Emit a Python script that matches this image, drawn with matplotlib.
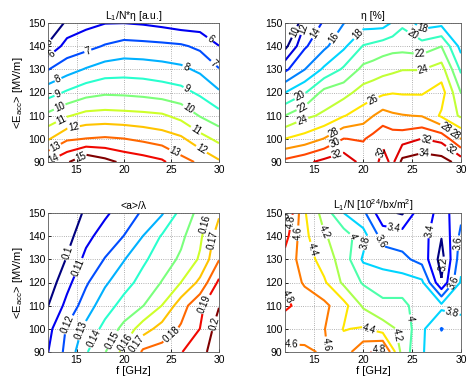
import matplotlib
matplotlib.use('Agg')
import matplotlib.pyplot as plt
from matplotlib.colors import Normalize
import numpy as np

plt.rcParams['font.family'] = ['Liberation Sans', 'DejaVu Sans']
plt.rcParams['mathtext.fontset'] = 'custom'
plt.rcParams['mathtext.rm'] = 'Liberation Sans'
plt.rcParams['mathtext.it'] = 'Liberation Sans:italic'

# ---------------- data ----------------
f_ghz = [12, 14, 16, 18, 20, 22, 24, 26, 28, 30]
f_eta = [12, 14, 16, 18, 20, 21, 22, 23, 24, 26, 28, 30]
e_acc = [90, 100, 110, 120, 130, 140, 150]

# L1/N*eta [a.u.]  (rows: E = 90 ... 150)
lum_eta = [
    [14.05, 14.88, 15.90, 15.35, 14.77, 14.50, 14.18, 13.33, 12.85, 12.14],
    [11.89, 12.85, 13.03, 13.13, 13.02, 12.79, 12.52, 12.18, 11.38, 10.74],
    [10.25, 10.91, 11.32, 11.38, 11.32, 11.25, 11.14, 10.69, 9.94, 9.35],
    [8.57, 9.14, 9.63, 9.85, 9.81, 9.71, 9.54, 9.33, 8.82, 8.13],
    [6.96, 7.59, 8.08, 8.47, 8.56, 8.52, 8.39, 8.21, 7.81, 7.05],
    [5.22, 6.37, 6.68, 7.08, 7.37, 7.31, 7.24, 7.14, 6.79, 6.02],
    [3.50, 5.30, 5.72, 5.97, 5.99, 5.90, 5.73, 5.50, 5.49, 5.05],
]
lum_eta_levels = [5, 6, 7, 8, 9, 10, 11, 12, 13, 14, 15]

# eta [%]
eta = [
    [30.6, 31.5, 32.6, 33.3, 31.3, 31.0, 32.8, 31.5, 34.6, 35.2, 34.9, 33.2],
    [26.02, 26.79, 28.09, 30.04, 29.83, 30.6, 31.5, 31.1, 31.13, 32.04, 31.4, 27.98],
    [22.02, 23.52, 24.36, 25.88, 27.01, 27.95, 28.83, 28.3, 28.1, 27.89, 25.7, 23.66],
    [17.98, 19.76, 22.65, 23.29, 24.82, 25.2, 25.62, 25.9, 25.8, 25.8, 26.9, 21.95],
    [13.56, 15.95, 18.36, 20.31, 22.53, 22.9, 23.33, 23.6, 23.93, 23.94, 24.84, 19.6],
    [9.4, 13.72, 15.55, 17.6, 20.12, 20.5, 20.98, 21.3, 21.3, 20.97, 21.97, 17.3],
    [5.4, 11.9, 14.3, 15.95, 17.2, 17.15, 17.14, 18.2, 19.63, 17.0, 17.4, 16.2],
]
eta_levels = [10, 12, 14, 16, 18, 20, 22, 24, 26, 28, 30, 32, 34]

# <a>/lambda
a_lambda = [
    [0.1098, 0.1229, 0.1390, 0.1495, 0.1633, 0.1820, 0.1840, 0.1895, 0.1960, 0.2070],
    [0.1067, 0.1211, 0.1326, 0.1431, 0.1529, 0.1653, 0.1741, 0.1813, 0.1901, 0.2050],
    [0.0998, 0.1129, 0.1250, 0.1356, 0.1436, 0.1497, 0.1602, 0.1756, 0.1876, 0.1995],
    [0.0942, 0.1071, 0.1186, 0.1285, 0.1363, 0.1434, 0.1505, 0.1601, 0.1725, 0.1920],
    [0.0870, 0.1010, 0.1127, 0.1205, 0.1295, 0.1383, 0.1450, 0.1517, 0.1613, 0.1795],
    [0.0860, 0.0961, 0.1072, 0.1143, 0.1202, 0.1301, 0.1410, 0.1477, 0.1581, 0.1750],
    [0.0880, 0.0945, 0.1014, 0.1083, 0.1148, 0.1213, 0.1289, 0.1433, 0.1532, 0.1685],
]
a_lambda_levels = [0.10, 0.11, 0.12, 0.13, 0.14, 0.15, 0.16, 0.17, 0.18, 0.19, 0.20]

# L1/N [10^24/bx/m^2]
lum_n = [
    [4.55, 4.57, 4.62, 4.50, 4.75, 4.88, 4.12, 3.81, 3.72, 3.72],
    [4.70, 4.67, 4.61, 4.39, 4.42, 4.30, 4.15, 3.84, 3.59, 3.74],
    [4.83, 4.74, 4.65, 4.47, 4.17, 4.04, 4.05, 3.90, 3.85, 3.84],
    [4.78, 4.57, 4.43, 4.16, 3.98, 3.92, 3.90, 3.84, 3.22, 3.83],
    [4.72, 4.51, 4.31, 4.11, 3.77, 3.71, 3.65, 3.53, 3.12, 3.72],
    [4.88, 4.45, 4.22, 4.10, 3.88, 3.52, 3.50, 3.50, 3.21, 3.65],
    [5.05, 4.42, 4.12, 3.80, 3.65, 3.25, 3.18, 3.55, 3.30, 3.55],
]
lum_n_levels = [3.2, 3.4, 3.6, 3.8, 4.0, 4.2, 4.4, 4.6, 4.8, 5.0]

titles = ['L$_1$/N*η [a.u.]', 'η [%]', '<a>/λ',
          'L$_1$/N [10$^{24}$/bx/m$^2$]']
ylabel = '<E$_{\\mathrm{acc}}$> [MV/m]'
xlabel = 'f [GHz]'
x_ticks = [15, 20, 25, 30]
y_ticks = [90, 100, 110, 120, 130, 140, 150]

# where the contour labels sit (layout only)
label_spots = [
    [(12.3, 141), (12.4, 136.5), (28.9, 142), (16.1, 139), (29.3, 132),
     (13.05, 125.7), (26.4, 130), (13.05, 119.2), (26.6, 121.5),
     (13.2, 114), (26.6, 112), (13.4, 108.3), (27.6, 104), (14.7, 104.8),
     (27.8, 93), (12.7, 97), (25.2, 93), (12.5, 92.5), (15.4, 92.5)],
    [(12.85, 146.4), (13.6, 147.8), (15.0, 146), (16.7, 144.5),
     (19.7, 144.2), (26.0, 146.6), (13.5, 118.9), (25.0, 144.5),
     (13.7, 114.2), (25.8, 136.3), (13.7, 108.8), (26.2, 129.5),
     (21.0, 116.8), (28.6, 105.8), (17.0, 103), (29.2, 101),
     (17.1, 98), (29.2, 96.5), (17.3, 93.4), (22.0, 94), (26.5, 100.5),
     (26.3, 94.4)],
    [(14.1, 132.7), (15.0, 126.9), (13.9, 102.3), (15.5, 99.4),
     (16.9, 95.8), (18.5, 95.8), (19.9, 95.1), (28.3, 145.7),
     (21.1, 94.4), (29.4, 138.4), (25.0, 97.3), (28.7, 110.3),
     (29.4, 102.3)],
    [(12.2, 148.6), (12.6, 146), (12.2, 113.9), (13.1, 141.3),
     (12.7, 92.9), (16.8, 93.6), (14.6, 134.1), (20.6, 99.5),
     (15.9, 141.3), (23.6, 97.3), (19.3, 139.9), (24.6, 104.5),
     (20.3, 137), (29.4, 119.5), (29.0, 105.2), (21.4, 137.2),
     (29.6, 137), (23.2, 145), (27.2, 142), (28.0, 128), (21.5, 92.5)],
]

# ---------------- figure ----------------
W, H = 474, 380
fig = plt.figure(figsize=(W / 100, H / 100), dpi=100)
fig.patch.set_facecolor('white')

boxes = [
    (48, 23, 219, 162),
    (285, 23, 461, 162),
    (48, 213, 219, 352),
    (285, 213, 461, 352),
]
axes = []
for (x0, y0, x1, y1) in boxes:
    ax = fig.add_axes([x0 / W, 1 - y1 / H, (x1 - x0) / W, (y1 - y0) / H])
    axes.append(ax)

panels = [
    (f_ghz, lum_eta, lum_eta_levels),
    (f_eta, eta, eta_levels),
    (f_ghz, a_lambda, a_lambda_levels),
    (f_ghz, lum_n, lum_n_levels),
]

for i, (ax, (fx, z, lev)) in enumerate(zip(axes, panels)):
    X, Y = np.meshgrid(fx, e_acc)
    Z = np.array(z)
    norm = Normalize(vmin=lev[0], vmax=lev[-1])
    cs = ax.contour(X, Y, Z, levels=lev, cmap='jet', norm=norm,
                    linewidths=1.5)
    ax.clabel(cs, fmt='%g', fontsize=7, colors='k', inline=True,
              inline_spacing=1, manual=label_spots[i])
    ax.set_xlim(12, 30)
    ax.set_ylim(90, 150)
    ax.set_xticks(x_ticks)
    ax.set_yticks(y_ticks)
    ax.grid(True, linestyle=':', color='0.6', linewidth=0.6)
    ax.set_axisbelow(True)
    ax.tick_params(direction='in', length=2.5, width=0.6, labelsize=7.5,
                   pad=2, colors='k')
    for s in ax.spines.values():
        s.set_linewidth(0.6)
        s.set_color('0.35')
    ax.set_title(titles[i], fontsize=7.5, pad=3)
    if i in (0, 2):
        ax.set_ylabel(ylabel, fontsize=8, labelpad=2)
    if i in (2, 3):
        ax.set_xlabel(xlabel, fontsize=8, labelpad=1)

fig.savefig('out.png', dpi=100)
